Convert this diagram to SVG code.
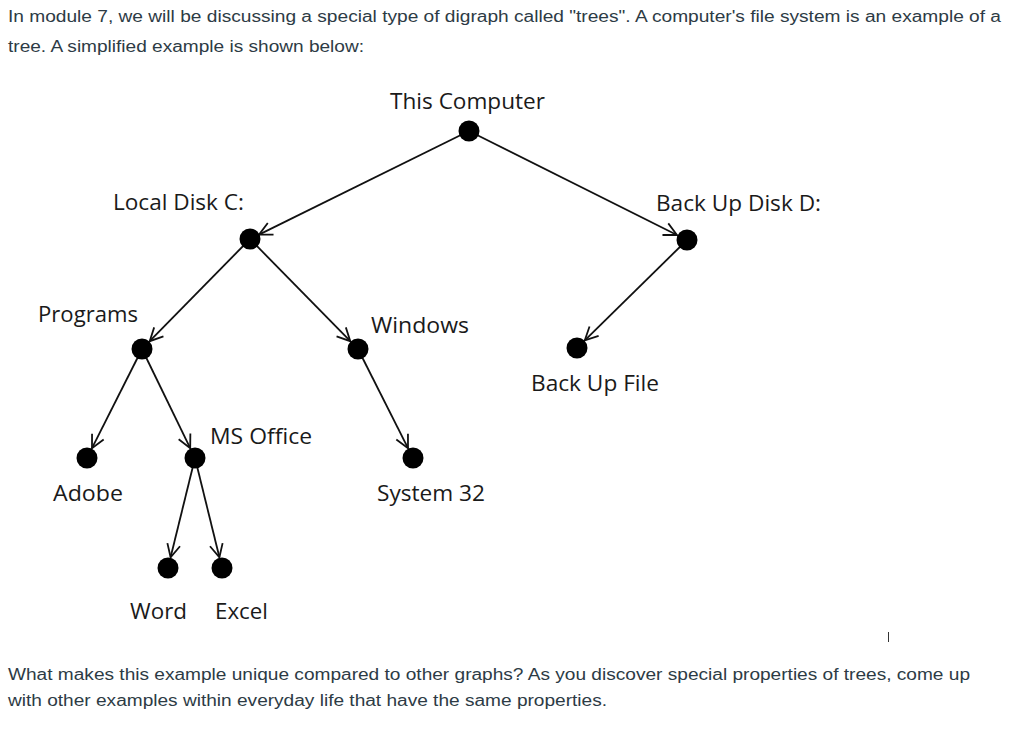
<svg xmlns="http://www.w3.org/2000/svg" width="1024" height="730" viewBox="0 0 1024 730">
<style>
.para{font-family:"Liberation Sans",Arial,sans-serif;font-size:16px;fill:#2d3b45}
.lbl{font-family:"Open Sans","Noto Sans",sans-serif;font-size:21px;fill:#1a1a1a}
.node{fill:#000}
.edge{stroke:#111;stroke-width:1.8;fill:none}
</style>
<defs>
<marker id="arr" markerUnits="userSpaceOnUse" markerWidth="30" markerHeight="30" refX="0" refY="0" orient="auto" overflow="visible">
<path d="M-13,-6.5 L0,0 L-13,6.5" fill="none" stroke="#111" stroke-width="1.8"/>
</marker>
</defs>
<rect width="1024" height="730" fill="#fff"/>
<text class="para" x="8" y="22" textLength="993" lengthAdjust="spacingAndGlyphs">In module 7, we will be discussing a special type of digraph called "trees". A computer's file system is an example of a</text>
<text class="para" x="8" y="52" textLength="356" lengthAdjust="spacingAndGlyphs">tree. A simplified example is shown below:</text>
<g id="connectors">
<line class="edge" x1="469" y1="131" x2="259" y2="234.6" marker-end="url(#arr)"/>
<line class="edge" x1="469" y1="131" x2="677" y2="235" marker-end="url(#arr)"/>
<line class="edge" x1="250" y1="239" x2="149.7" y2="341.2" marker-end="url(#arr)"/>
<line class="edge" x1="250" y1="239" x2="350.3" y2="341.2" marker-end="url(#arr)"/>
<line class="edge" x1="687" y1="240" x2="584.8" y2="340.3" marker-end="url(#arr)"/>
<line class="edge" x1="142" y1="349" x2="92" y2="448.2" marker-end="url(#arr)"/>
<line class="edge" x1="142" y1="349" x2="190.2" y2="448.1" marker-end="url(#arr)"/>
<line class="edge" x1="358" y1="349" x2="408" y2="448.2" marker-end="url(#arr)"/>
<line class="edge" x1="195" y1="458" x2="170.6" y2="557.3" marker-end="url(#arr)"/>
<line class="edge" x1="195" y1="458" x2="219.4" y2="557.3" marker-end="url(#arr)"/>
</g>
<g id="this-computer"><circle class="node" cx="469" cy="131" r="10.5"/><text class="lbl" x="390" y="109" textLength="155" lengthAdjust="spacingAndGlyphs">This Computer</text></g>
<g id="local-disk-c"><circle class="node" cx="250" cy="239" r="10.5"/><text class="lbl" x="113" y="210" textLength="131" lengthAdjust="spacingAndGlyphs">Local Disk C:</text></g>
<g id="back-up-disk-d"><circle class="node" cx="687" cy="240" r="10.5"/><text class="lbl" x="656" y="211" textLength="165" lengthAdjust="spacingAndGlyphs">Back Up Disk D:</text></g>
<g id="programs"><circle class="node" cx="142" cy="349" r="10.5"/><text class="lbl" x="38" y="322" textLength="100" lengthAdjust="spacingAndGlyphs">Programs</text></g>
<g id="windows"><circle class="node" cx="358" cy="349" r="10.5"/><text class="lbl" x="371" y="333" textLength="98" lengthAdjust="spacingAndGlyphs">Windows</text></g>
<g id="back-up-file"><circle class="node" cx="577" cy="348" r="10.5"/><text class="lbl" x="531" y="391" textLength="128" lengthAdjust="spacingAndGlyphs">Back Up File</text></g>
<g id="adobe"><circle class="node" cx="87" cy="458" r="10.5"/><text class="lbl" x="53" y="501" textLength="70" lengthAdjust="spacingAndGlyphs">Adobe</text></g>
<g id="ms-office"><circle class="node" cx="195" cy="458" r="10.5"/><text class="lbl" x="210" y="444" textLength="102" lengthAdjust="spacingAndGlyphs">MS Office</text></g>
<g id="system-32"><circle class="node" cx="413" cy="458" r="10.5"/><text class="lbl" x="377" y="501" textLength="108" lengthAdjust="spacingAndGlyphs">System 32</text></g>
<g id="word"><circle class="node" cx="168" cy="568" r="10.5"/><text class="lbl" x="130" y="619" textLength="57" lengthAdjust="spacingAndGlyphs">Word</text></g>
<g id="excel"><circle class="node" cx="222" cy="568" r="10.5"/><text class="lbl" x="215" y="619" textLength="53" lengthAdjust="spacingAndGlyphs">Excel</text></g>
<line x1="888.5" y1="632" x2="888.5" y2="642" stroke="#333" stroke-width="1"/>
<text class="para" x="8" y="680" textLength="962" lengthAdjust="spacingAndGlyphs">What makes this example unique compared to other graphs? As you discover special properties of trees, come up</text>
<text class="para" x="8" y="706" textLength="599" lengthAdjust="spacingAndGlyphs">with other examples within everyday life that have the same properties.</text>
</svg>
